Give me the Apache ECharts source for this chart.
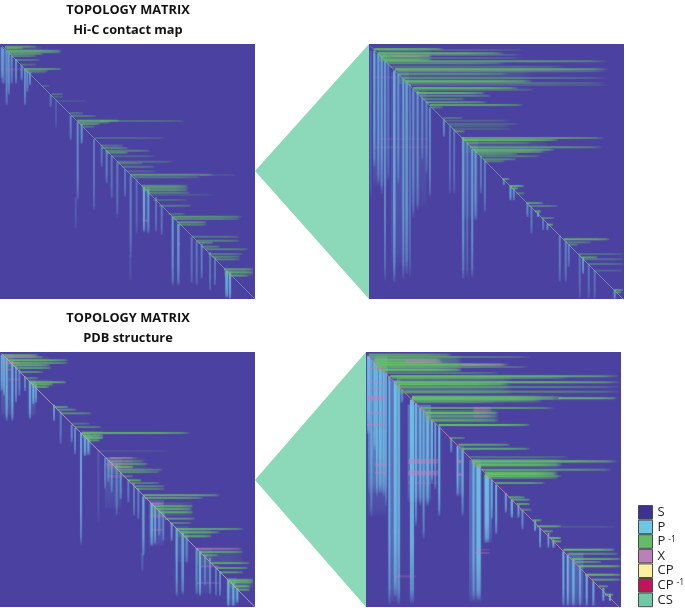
<!DOCTYPE html>
<html><head><meta charset="utf-8">
<style>html,body{margin:0;padding:0;background:#fff}#c{width:685px;height:608px}</style>
<script src="https://cdn.jsdelivr.net/npm/echarts@6/dist/echarts.min.js"></script>
</head><body><div id="c"></div>
<script>
// Streak tables: [position, from, to, strength?, thickness?], in contact-map index units.
const hicFullPinv=[[27,15,130,.3,22],[18,15,110],[22,20,70,.8],[30,22,185,.9],[35,25,185,.7],[40,30,130,.7],[46,35,110,.6],[58,45,120,.5],[72,60,110,.4],[85,72,185,.8],[90,75,145,.6],[95,80,140,.4],[136,125,150,.3],[160,155,190,.4],[168,160,190,.3],[181,170,260,.2],[218,208,250,.5],[226,215,290,.5],[240,232,360,.9],[241,300,555,.4],[245,235,330,.6],[250,240,300,.7],[258,250,285,.5],[292,285,495,.35],[315,300,370,.5],[322,305,385,.6],[330,315,450,.6],[336,320,385,.7],[347,335,465,.35],[363,350,520,.45],[368,355,430,.5],[378,365,465,.5],[392,380,470,.35],[402,390,640,.8],[403,600,710,.2],[410,398,600,.5],[442,425,565,.3,22],[436,425,565,.6],[441,428,565,.7],[448,432,565,.6],[456,440,570,.6],[462,445,640,.25],[478,460,565,.35],[495,478,575,.5],[520,505,555,.4],[528,515,725,.8],[535,520,720,.6],[545,530,620,.8],[552,535,620,.6],[588,575,720,.5],[600,590,720,.6],[606,595,640,.7],[618,605,660,.6],[626,615,745,.6],[640,625,730,.5],[648,635,720,.6],[656,645,720,.6],[695,672,760,.35,24],[686,672,760,.8],[695,680,760,.8],[705,690,745,.7]];
const hicFullP=[[15,20,130,.3,24],[5,20,115],[10,25,130],[20,30,195],[27,35,165],[35,45,130],[48,55,130],[65,75,120],[75,85,195],[82,90,155],[90,95,135],[152,162,200,.5],[168,175,265,.25],[212,225,300,.6],[233,245,480,.7],[227,470,565,.25],[245,250,310,.8],[282,295,510,.5],[305,320,380,.5],[320,330,430,.6],[335,345,475,.5],[352,365,530,.5],[375,385,470,.5],[392,405,650,.6],[391,640,720,.2],[410,415,580,.4],[438,440,575,.3,22],[432,440,575,.9,6],[445,445,580,.7],[468,470,575,.5],[485,495,585,.5],[518,530,735,.8],[535,550,735,.8,7],[575,590,730,.5],[590,600,735,.5],[605,610,715,.6],[630,635,750,.5],[645,650,735,.5],[685,690,775,.4,18],[680,690,770,.9,8],[690,695,775,.9]];
const hicFullX=[[86,20,90,.25],[540,430,445,.5,6],[610,535,540,.4]];

const hicZoomPinv=[[45,40,200,.4,34],[108,100,500,.3,44],[315,300,550,.25,42],[25,28,235,.85],[28,30,475,.3],[38,38,415,.9],[42,40,470,.45],[47,45,200,.9],[52,48,470,.35],[57,55,200,.9],[62,60,725,.75],[68,65,420,.6],[78,75,600,.4],[86,90,730,1],[92,95,720,.5],[100,100,430,.5],[112,110,720,.45],[122,120,500,.95],[127,125,720,.4],[133,130,735,.3],[142,145,460,.9],[147,150,510,.5],[157,155,360,.9],[165,165,380,.6],[175,175,300,.5],[185,185,365,.7],[193,195,475,.75],[200,200,235,.5],[232,235,295,.4],[240,240,435,.3],[250,250,460,.35],[257,255,435,.3],[265,262,440,.25],[272,270,300,.6],[292,290,720,.75],[298,295,580,.9],[306,305,500,.5],[320,315,710,.7],[327,325,570,.9],[333,330,540,.8],[340,340,460,.6],[347,345,525,.5],[356,355,455,.6],[362,360,420,.5],[415,412,435,.6],[436,435,478,.8],[443,440,460,.8],[458,455,480,.5],[487,485,535,.7],[496,492,580,.5],[512,510,530,.8],[532,530,570,.5],[552,550,565,.8],[596,597,735,.85],[605,605,680,.5],[612,612,640,.5],[640,640,778,.35],[650,650,700,.7],[656,655,778,.4],[670,670,778,.4],[690,685,775,.3],[748,748,775,.7],[755,755,770,.7]];
const hicZoomP=[[45,40,440,.3,42],[105,95,680,.25,55],[160,150,500,.2,50],[315,295,540,.25,50],[17,30,470,.3],[28,30,380,.8],[40,40,430,.7],[50,45,460,.7],[60,60,720,.6],[70,70,420,.5],[88,90,725,.85,7],[100,100,430,.6],[115,115,715,.7],[125,125,700,.7,7],[135,130,710,.4],[145,145,530,.6],[158,150,510,.6],[172,170,360,.5],[185,180,400,.5],[195,200,470,.6],[237,235,290,.6],[255,255,460,.4],[268,265,460,.4],[295,290,715,.7,7],[307,305,710,.4],[322,325,710,.7],[332,330,540,.7],[348,345,460,.5],[360,360,515,.5],[417,415,435,.6],[437,435,480,.8],[447,445,480,.6],[488,487,530,.6],[500,500,580,.5],[520,515,530,.8],[535,535,570,.5],[548,548,570,.6],[585,585,725,.5],[603,600,725,.5],[612,610,680,.5],[645,640,775,.4],[655,650,700,.7],[672,670,775,.4],[690,690,775,.4],[750,748,775,.7]];
const hicZoomX=[[46,85,200,.35],[110,25,100,.2],[320,30,190,.18],[295,40,190,.15]];

const pdbFullPinv=[[35,15,150,.3,34],[100,88,160,.3,20],[255,245,310,.4,22],[350,325,440,.25,45],[478,455,580,.3,40],[550,530,635,.35,24],[620,590,730,.22,50],[700,685,760,.4,28],[16,8,115,.7],[22,15,130,.6],[32,25,205,.9],[40,30,205,.7],[47,40,150,.8],[55,50,155,.7],[67,60,130,.6],[85,78,115,.5],[98,88,200,.9],[104,95,160,.8],[112,105,148,.7],[172,165,205,.7],[180,172,230,.6],[191,185,275,.6],[222,215,270,.4],[232,225,305,.5],[250,245,570,.85],[258,250,310,.9],[265,258,310,.9],[272,268,300,.7],[304,295,510,.15],[325,315,415,.4],[335,325,430,.5],[343,335,445,.6],[352,345,400,.8],[360,355,490,.6],[367,360,480,.5],[380,370,400,.5],[392,385,425,.8],[400,395,480,.5],[410,405,495,.6],[418,410,495,.5],[437,430,660,.85],[445,435,610,.7],[470,460,580,.8],[478,470,575,.7],[488,478,580,.8],[507,495,585,.7],[520,510,575,.5],[538,530,730,.8],[548,540,660,.8],[560,550,635,.7],[607,600,730,.7],[617,610,655,.6],[640,635,750,.7],[655,650,745,.7],[668,660,730,.7],[692,685,760,.9],[698,690,760,.8],[710,700,750,.9],[720,710,750,.8]];
const pdbFullP=[[22,15,200,.35,36],[95,90,200,.3,24],[260,250,320,.35,24],[340,325,480,.22,50],[470,450,590,.3,44],[545,530,640,.25,40],[610,595,735,.2,50],[695,685,770,.35,30],[5,15,125,.9],[12,20,140,.8],[20,25,215,.9],[37,35,215,.9],[48,50,160,.7],[58,60,140,.6],[75,80,125,.6],[90,95,210,.8],[100,100,165,.9],[108,105,160,.7],[162,165,215,.7],[182,185,285,.5],[215,225,280,.6],[225,235,315,.6],[243,250,585,.8],[255,260,320,.9,5],[265,265,315,.8],[295,300,520,.2],[315,325,420,.5],[325,330,400,.6],[335,335,430,.6],[350,345,500,.5],[362,370,450,.6],[385,390,460,.5],[402,400,500,.5],[415,415,510,.5],[430,440,620,.8,7],[427,610,665,.3],[455,460,590,.9,7],[465,470,585,.7],[478,480,560,.6],[490,490,575,.5],[515,520,575,.7],[530,535,740,.8],[548,550,735,.8,7],[560,560,640,.5],[590,595,735,.6],[600,605,740,.9,6],[615,615,710,.5],[630,625,735,.5],[648,650,740,.5],[660,665,740,.6],[685,690,770,.9,6],[700,700,770,.9],[712,715,760,.9]];
const pdbFullX=[[40,8,60,.6],[60,5,40,.4],[462,450,490,.7,6],[325,330,400,.5],[597,590,725,.6],[345,320,360,.4],[500,450,500,.5,6],[540,455,490,.4,6],[650,600,660,.4,6],[700,590,660,.3],[345,320,400,.35,30],[380,320,370,.3,8],[90,25,60,.35],[20,20,110,.45,8]];

const pdbZoomPinv=[[42,40,300,.7,48],[105,105,450,.55,55],[148,150,540,.5,22],[200,190,410,.55,36],[340,335,600,.6,26],[375,370,590,.65,26],[15,20,270,.8],[22,25,505,.45],[30,35,235,.9,6],[38,40,240,.9,6],[45,45,440,1,7],[52,50,500,.5],[60,60,300,.9],[70,70,410,.45],[80,85,770,.95],[85,90,620,.5],[98,105,775,.95],[104,110,440,.9,6],[112,115,770,.5],[126,130,770,.55],[145,150,600,1,10],[146,590,765,.9,6],[152,160,540,.6],[158,165,400,.4],[175,175,575,.7],[190,190,410,.95,6],[200,200,410,.5],[212,210,410,.6],[226,230,505,.95],[265,262,310,.5],[285,290,445,.75],[297,300,505,.8],[322,320,620,.35],[335,330,765,.95,7],[345,345,600,.9,7],[360,360,750,.7],[372,370,585,1,8],[380,380,600,.8],[400,400,550,.7],[443,440,490,.7],[450,450,505,.7],[463,465,505,.7],[480,475,510,.5],[512,512,540,.7],[530,525,600,.8],[531,600,765,.2],[545,545,575,.7],[565,565,598,.9],[575,570,600,.8],[600,605,760,.95],[612,620,770,.6],[628,630,778,.8],[637,640,720,.6],[650,650,778,.9],[675,670,778,.9,6],[690,690,778,.7],[710,710,740,.7],[735,730,755,.9]];
const pdbZoomP=[[47,20,430,.6,58],[45,240,500,.25,55],[98,90,760,.55,34],[172,165,460,.55,70],[340,330,760,.5,36],[295,290,440,.5,22],[378,375,580,.5,24],[640,610,770,.4,50],[20,20,255,.9,10],[28,30,500,.6],[38,35,300,.9,7],[45,40,440,.8],[55,50,430,.9,8],[65,65,440,.8,7],[72,70,470,.6],[82,80,765,.8],[100,95,740,.95,9],[110,105,765,.8,7],[120,120,160,.5,8],[150,150,760,.95,12],[162,160,530,.8,6],[175,175,470,.8],[185,180,570,.7],[197,195,470,.9,7],[210,210,400,.9,6],[220,220,420,.7],[232,230,500,.9,6],[268,265,310,.6],[287,290,440,.8,5],[302,300,500,.7],[335,330,750,.8],[350,345,750,.95,12],[375,375,580,.95,12],[390,390,510,.7],[403,405,555,.8],[432,430,490,.7],[450,450,505,.8,7],[470,465,505,.7],[482,480,540,.6],[520,512,545,.8,6],[535,535,595,.7],[560,550,595,.8,5],[575,570,595,.8,6],[605,605,770,.85,6],[618,615,770,.85],[635,630,770,.85,7],[655,650,770,.7],[675,675,770,.85,6],[695,695,770,.8],[725,715,755,.8],[745,735,755,.9,6]];
const pdbZoomX=[[55,20,75,.55,5],[145,15,75,.6,14],[190,15,75,.5,6],[225,15,75,.5,5],[335,140,235,.55,14],[370,140,235,.55,14],[345,40,75,.45,10],[370,40,75,.4,8],[335,285,305,.5,10],[375,285,305,.5,8],[180,335,390,.45,16],[200,335,390,.35,8],[35,130,240,.5,12],[45,300,430,.5,6],[610,340,385,.35,6],[680,100,165,.3,6],[600,345,385,.25,5],[95,25,75,.4],[115,25,75,.35],[400,140,235,.3,5]];

const legendNames=['S','P','P-1','X','CP','CP-1','CS'];
const titleLines=['TOPOLOGY MATRIX\nHi-C contact map','TOPOLOGY MATRIX\nPDB structure'];

const colors={S:'#3b3392',P:'#6cc6e4',Pinv:'#63bd68',X:'#ba80ba',CP:'#fbf09e',CPinv:'#c01559',CS:'#6fc8a6'};
const rgb={P:'112,196,232',Pinv:'100,195,100',X:'196,125,190'};
const panels=[
 {l:0,t:44,s:255,xr:[0,765],yr:[10,775],h:hicFullPinv,v:hicFullP,x:hicFullX,k:.75,d:'rgba(135,160,185,.6)'},
 {l:369,t:44,s:255,xr:[12,778],yr:[10,775],h:hicZoomPinv,v:hicZoomP,x:hicZoomX,k:.85,d:'rgba(135,165,175,.7)'},
 {l:0,t:352,s:255,xr:[0,765],yr:[7,772],h:pdbFullPinv,v:pdbFullP,x:pdbFullX,k:.85,d:'rgba(190,160,185,.85)'},
 {l:366,t:352,s:255,xr:[12,778],yr:[7,772],h:pdbZoomPinv,v:pdbZoomP,x:pdbZoomX,k:.9,d:'rgba(205,120,140,.9)'}
];
const chart=echarts.init(document.getElementById('c'),null,{renderer:'canvas'});
function streakSeries(name,i,rows,horizontal,col,k){
 const data=rows.map(r=>[r[0],r[1],r[2],r[3]===undefined?.7:r[3],r[4]===undefined?6:r[4]]);
 return {type:'custom',name,xAxisIndex:i,yAxisIndex:i,clip:true,silent:true,animation:false,
  dimensions:['pos','from','to','strength','thickness'],
  itemStyle:{color:colors[name==='P-1'?'Pinv':name]},
  encode:{x:horizontal?[1,2]:0,y:horizontal?0:[1,2]},
  data,
  renderItem(params,api){
   const pos=api.value(0),a=api.value(1),b=api.value(2);
   const w=api.value(4), st=api.value(3)*k*(w>=18?.7:1);
   const p0=horizontal?api.coord([a,pos-w/2]):api.coord([pos-w/2,a]);
   const p1=horizontal?api.coord([b,pos+w/2]):api.coord([pos+w/2,b]);
   const stops=[{offset:0,color:`rgba(${col},${st})`},{offset:.7,color:`rgba(${col},${st*.85})`},{offset:.93,color:`rgba(${col},${st*.55})`},{offset:1,color:`rgba(${col},${st*.1})`}];
   return {type:'rect',shape:{x:p0[0],y:p0[1],width:p1[0]-p0[0],height:p1[1]-p0[1]},
     style:{fill:new echarts.graphic.LinearGradient(0,0,horizontal?1:0,horizontal?0:1,stops),shadowBlur:2,shadowColor:`rgba(${col},${st*.5})`}};
  }};
}
const series=[];
panels.forEach((p,i)=>{
 const o=i%2?0:p.yr[0];
 series.push({type:'line',name:'diagonal',xAxisIndex:i,yAxisIndex:i,showSymbol:false,silent:true,animation:false,z:3,
   lineStyle:{color:p.d,width:1},data:[[p.xr[0]+5,p.xr[0]+5+o],[p.xr[1],p.xr[1]+o]]});
 series.push(streakSeries('P',i,p.v,false,rgb.P,p.k));
 series.push(streakSeries('P-1',i,p.h,true,rgb.Pinv,p.k));
 series.push(streakSeries('X',i,p.x,true,rgb.X,p.k));
});
['S','CP','CP-1','CS'].forEach(n=>series.push({type:'custom',name:n,xAxisIndex:0,yAxisIndex:0,data:[],renderItem(){return null},
  itemStyle:{color:colors[n.replace('-1','inv')]}}));
chart.setOption({
 animation:false,backgroundColor:'#fff',
 title:titleLines.map((t,i)=>({text:t,left:128,top:i?309:1,textAlign:'center',padding:0,
   textStyle:{fontFamily:'Open Sans',fontWeight:'bold',fontSize:12.8,lineHeight:19.5,color:'#111'}})),
 grid:panels.map(p=>({left:p.l,top:p.t,width:p.s,height:p.s,show:true,backgroundColor:'#4b41a0',borderWidth:0,containLabel:false})),
 xAxis:panels.map((p,i)=>({type:'value',gridIndex:i,min:p.xr[0],max:p.xr[1],show:false})),
 yAxis:panels.map((p,i)=>({type:'value',gridIndex:i,min:p.yr[0],max:p.yr[1],inverse:true,show:false})),
 legend:{data:legendNames,orient:'vertical',left:638,top:505,padding:0,itemWidth:14,itemHeight:13.6,itemGap:0,icon:'rect',selectedMode:false,
   itemStyle:{borderColor:'#4a4a4a',borderWidth:1},
   formatter:n=>n.endsWith('-1')?n.replace('-1','')+'{s|-1}':n,
   textStyle:{fontFamily:'Open Sans',fontSize:13,lineHeight:13.6,color:'#222',
     rich:{s:{fontFamily:'Open Sans',fontSize:8.5,color:'#222',verticalAlign:'top',lineHeight:9,padding:[0,0,0,3]}}}},
 graphic:[
  {type:'polygon',silent:true,z:-1,shape:{points:[[255,171],[369,44],[369,299]]},style:{fill:'#8cd9b9'}},
  {type:'polygon',silent:true,z:-1,shape:{points:[[255,480],[366,352],[366,607]]},style:{fill:'#8cd9b9'}}
 ],
 series
});
</script></body></html>
